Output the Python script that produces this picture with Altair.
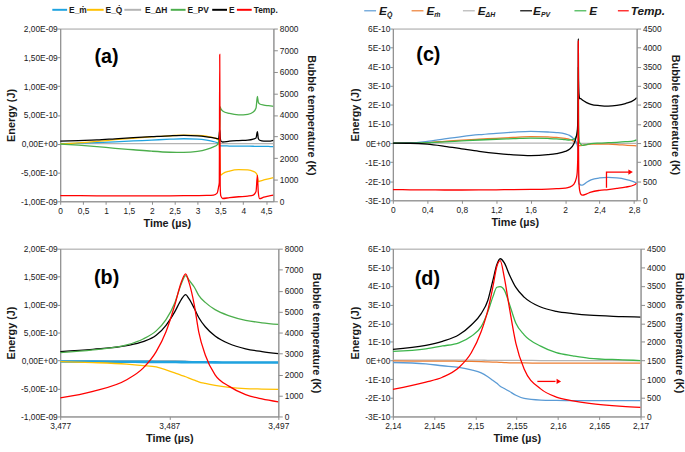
import altair as alt
import pandas as pd

FONT = "Liberation Sans"
AXC = "#8c8c8c"
TXT = "#1a1a1a"

# ---------------- Panel (a): energies in 1e-10 J, temperature in K ----------------
t_a = [0, 0.4, 0.8, 1.2, 1.6, 2.0, 2.4, 2.7, 3.0, 3.2, 3.35, 3.43, 3.46, 3.477, 3.487, 3.497,
       3.51, 3.55, 3.7, 3.9, 4.1, 4.22, 4.28, 4.31, 4.33, 4.36, 4.45, 4.55, 4.66]
a_Em = [0, 0.08, 0.18, 0.33, 0.48, 0.63, 0.78, 0.86, 0.8, 0.62, 0.38, 0.18, 0.05, -0.18, -0.25, -0.36,
        -0.38, -0.38, -0.4, -0.42, -0.43, -0.44, -0.45, -0.45, -0.46, -0.46, -0.47, -0.48, -0.5]
a_EQ = [0, 0.15, 0.4, 0.7, 0.95, 1.18, 1.38, 1.5, 1.45, 1.3, 1.05, 0.8, 0.6, -0.2, -2.0, -5.15,
        -5.45, -5.2, -4.75, -4.5, -4.55, -4.8, -5.1, -5.6, -6.6, -6.5, -6.3, -6.1, -5.9]
a_EdH = [0] * 29
a_EPV = [-0.05, -0.25, -0.5, -0.8, -1.05, -1.3, -1.48, -1.52, -1.35, -1.0, -0.55, -0.2, 0.3, 1.4, 3.0, 6.4,
         6.1, 5.7, 5.25, 5.0, 5.1, 5.5, 6.2, 8.2, 7.2, 6.9, 6.7, 6.6, 6.5]
a_E = [0.45, 0.55, 0.65, 0.85, 1.05, 1.22, 1.38, 1.45, 1.38, 1.2, 1.0, 0.9, 0.8, 1.6, 2.4, 1.2,
       0.5, 0.3, 0.45, 0.55, 0.62, 0.8, 1.0, 2.1, 0.9, 0.6, 0.45, 0.45, 0.6]
a_T = [265, 258, 255, 252, 252, 252, 255, 258, 262, 270, 290, 380, 650, 870, 6800, 700,
       250, 130, 170, 210, 240, 290, 450, 1200, 400, 120, 190, 240, 290]

# ---------------- Panel (b): zoom on first collapse ----------------
t_b = [3.477, 3.4800, 3.4831, 3.4846, 3.4858, 3.4867, 3.4875, 3.4881, 3.4885, 3.4888, 3.4893,
       3.4897, 3.4903, 3.4912, 3.4925, 3.4940, 3.4955, 3.497]
b_Em = [-0.18, -0.2, -0.22, -0.24, -0.25, -0.26, -0.27, -0.28, -0.29, -0.3, -0.3, -0.31, -0.32,
        -0.33, -0.34, -0.35, -0.35, -0.36]
b_EQ = [-0.18, -0.36, -0.65, -0.9, -1.15, -1.66, -2.2, -2.65, -2.9, -3.15, -3.5, -3.8, -4.1,
        -4.45, -4.8, -5.03, -5.1, -5.15]
b_EdH = [0, 0, 0, 0, 0, -0.01, -0.02, -0.05, -0.1, -0.15, -0.2, -0.25, -0.28, -0.3, -0.32,
         -0.33, -0.34, -0.35]
b_EPV = [1.42, 1.89, 2.78, 3.85, 5.3, 7.3, 10.3, 13.7, 15.2, 14.4, 13.1, 11.66, 10.4, 9.1, 8.0,
         7.2, 6.75, 6.45]
b_E = [1.6, 2.0, 2.66, 3.37, 4.5, 6.3, 8.7, 10.9, 11.78, 11.07, 9.3, 7.7, 6.04, 4.4, 3.0, 2.1,
       1.6, 1.24]
b_T = [883, 1199, 1751, 2303, 3091, 4038, 5300, 6404, 6798, 6404, 5300, 4038, 2934, 1987, 1435,
       1041, 836, 694]

# ---------------- Panel (d): zoom on collapse of case (c) ----------------
t_d = [2.14, 2.144, 2.146, 2.148, 2.1495, 2.1507, 2.1515, 2.1521, 2.1526, 2.153, 2.1535, 2.1541,
       2.1549, 2.1559, 2.1579, 2.1598, 2.1618, 2.1638, 2.1678, 2.17]
d_EQ = [-0.105, -0.18, -0.28, -0.37, -0.5, -0.66, -0.87, -1.06, -1.22, -1.38, -1.5, -1.65, -1.86,
        -2.03, -2.12, -2.14, -2.15, -2.15, -2.15, -2.15]
d_Em = [-0.02, -0.03, -0.03, -0.04, -0.05, -0.06, -0.07, -0.08, -0.09, -0.1, -0.11, -0.12, -0.13,
        -0.13, -0.14, -0.14, -0.14, -0.14, -0.14, -0.14]
d_EdH = [0.02, 0.02, 0.02, 0.02, 0.02, 0.02, 0.01, 0.01, 0.01, 0.01, 0.01, 0.01, 0.01, 0.01, 0,
         0, 0, 0, 0, 0]
d_EPV = [0.60, 0.81, 1.03, 1.38, 1.91, 2.52, 3.22, 4.27, 5.15, 5.46, 5.24, 4.62, 3.92, 3.40, 2.87,
         2.64, 2.52, 2.43, 2.36, 2.33]
d_E = [0.49, 0.63, 0.78, 0.95, 1.30, 1.82, 2.61, 3.40, 3.93, 3.96, 3.78, 3.05, 2.0, 1.38, 0.77,
       0.42, 0.25, 0.12, 0.04, 0.0]
d_T = [727, 919, 1051, 1313, 1708, 2277, 2846, 3459, 4028, 4177, 3722, 2933, 1960, 1270, 740,
       520, 420, 350, 271, 245]

# ---------------- Panel (c): before and after the collapse window of (d) ----------------
t_c1 = [0, 0.2, 0.4, 0.6, 0.8, 1.0, 1.2, 1.4, 1.6, 1.8, 1.9, 2.0, 2.05, 2.1, 2.13]
c1_EQ = [0, 0.01, 0.09, 0.22, 0.34, 0.44, 0.51, 0.57, 0.61, 0.58, 0.55, 0.48, 0.4, 0.22, 0.05]
c1_Em = [0, 0, 0.03, 0.09, 0.15, 0.2, 0.25, 0.3, 0.34, 0.32, 0.3, 0.24, 0.2, 0.1, 0.03]
c1_EdH = [0] * 15
c1_EPV = [0, -0.01, -0.06, -0.17, -0.3, -0.43, -0.54, -0.62, -0.66, -0.61, -0.55, -0.44, -0.33, -0.05, 0.35]
c1_E = [0, 0, 0.02, 0.06, 0.11, 0.16, 0.2, 0.23, 0.26, 0.24, 0.22, 0.18, 0.16, 0.2, 0.35]
c1_T = [280, 275, 272, 270, 270, 272, 275, 280, 285, 295, 305, 320, 345, 420, 580]

t_c2 = [2.18, 2.2, 2.25, 2.3, 2.4, 2.5, 2.6, 2.7, 2.8, 2.83]
c2_EQ = [-2.2, -2.2, -2.05, -1.93, -1.83, -1.8, -1.83, -1.9, -2.03, -2.08]
c2_Em = [-0.14, -0.12, -0.08, -0.06, -0.05, -0.06, -0.08, -0.11, -0.14, -0.15]
c2_EdH = [-0.02] * 10
c2_EPV = [2.33, 2.25, 2.12, 2.03, 1.96, 1.93, 1.97, 2.07, 2.25, 2.38]
c2_E = [-0.05, -0.12, -0.08, -0.03, 0.0, 0.02, 0.04, 0.07, 0.12, 0.17]
c2_T = [170, 135, 170, 215, 260, 280, 310, 345, 400, 450]

# red arrows (temperature axis)
arrow_c_t = [2.48, 2.48, 2.74]
arrow_c_T = [330, 740, 740]
arrow_d_t = [2.1575, 2.1597]
arrow_d_T = [940, 940]

# legends
leg_a_labels = ["E_ṁ", "E_Q̇", "E_ΔH", "E_PV", "E", "Temp."]
leg_c_main = ["E", "E", "E", "E", "E", "Temp."]
leg_c_sub = ["Q̇", "ṁ", "ΔH", "PV", "", ""]

# tick values / labels
x_a_ticks = [0, 0.5, 1, 1.5, 2, 2.5, 3, 3.5, 4, 4.5]
x_b_ticks = [3.477, 3.487, 3.497]
x_c_ticks = [0, 0.4, 0.8, 1.2, 1.6, 2, 2.4, 2.8]
x_d_ticks = [2.14, 2.145, 2.15, 2.155, 2.16, 2.165, 2.17]
e_ab_ticks = [-1e-9, -5e-10, 0, 5e-10, 1e-9, 1.5e-9, 2e-9]
e_ab_labels = ['-1,00E-09', '-5,00E-10', '0,00E+00', '5,00E-10', '1,00E-09', '1,50E-09', '2,00E-09']
e_cd_ticks = [-3e-10, -2e-10, -1e-10, 0, 1e-10, 2e-10, 3e-10, 4e-10, 5e-10, 6e-10]
e_cd_labels = ['-3E-10', '-2E-10', '-1E-10', '0E+00', '1E-10', '2E-10', '3E-10', '4E-10', '5E-10', '6E-10']
T_ab_ticks = [0, 1000, 2000, 3000, 4000, 5000, 6000, 7000, 8000]
T_cd_ticks = [0, 500, 1000, 1500, 2000, 2500, 3000, 3500, 4000, 4500]

# colours
COL_A = {"m": "#1fa3e0", "Q": "#ffc000", "dH": "#b4b4b4", "PV": "#4cae4c", "E": "#000000", "T": "#ff0000"}
COL_C = {"Q": "#5b9bd5", "m": "#ed7d31", "dH": "#b4b4b4", "PV": "#000000", "E": "#3cb44b", "T": "#ff0000"}

DUMMY = pd.DataFrame({"k": [0]})


def x_axis(vals):
    return alt.Axis(values=vals, title="Time (µs)", labelExpr="replace(toString(datum.value), '.', ',')",
                    grid=False, tickSize=3, labelPadding=2, titlePadding=3, labelFontSize=8.5,
                    titleFontSize=11, titleFontWeight="bold", labelFont=FONT, titleFont=FONT,
                    domainColor=AXC, tickColor=AXC, labelColor=TXT, titleColor=TXT,
                    labelFlush=False, labelOverlap=False)


def e_axis(vals, labels, lo, step):
    arr = "[" + ",".join("'%s'" % s for s in labels) + "]"
    return alt.Axis(values=vals, title="Energy (J)", orient="left",
                    labelExpr="%s[round((datum.value - (%g)) / %g)]" % (arr, lo, step),
                    grid=False, tickSize=3, labelPadding=0, titlePadding=4, labelFontSize=8.5,
                    titleFontSize=11, titleFontWeight="bold", labelFont=FONT, titleFont=FONT,
                    domainColor=AXC, tickColor=AXC, labelColor=TXT, titleColor=TXT,
                    labelOverlap=False, labelBound=False)


def t_axis(vals):
    return alt.Axis(values=vals, title="Bubble temperature (K)", orient="right", format="d",
                    grid=False, tickSize=4, labelPadding=2, titlePadding=8, labelFontSize=8.5,
                    titleFontSize=11, titleFontWeight="bold", labelFont=FONT, titleFont=FONT,
                    domainColor=AXC, tickColor=AXC, labelColor=TXT, titleColor=TXT,
                    labelOverlap=False, labelBound=False)


def panel(t, series, temp, xdom, xticks, edom, eticks, elabels, estep, tdom, tticks,
          letter, lpos, extra=()):
    X = alt.X("t:Q", scale=alt.Scale(domain=xdom, nice=False, zero=False), axis=x_axis(xticks))
    eax = e_axis(eticks, elabels, edom[0], estep)
    ysc = alt.Scale(domain=edom, nice=False, zero=False)
    e_layers = []
    for vals, color, sw in series:
        df = pd.DataFrame({"t": t, "v": [v * 1e-10 for v in vals]})
        e_layers.append(alt.Chart(df).mark_line(color=color, strokeWidth=sw, clip=True,
                                                interpolate="monotone")
                        .encode(x=X, y=alt.Y("v:Q", scale=ysc, axis=eax)))
    tax = t_axis(tticks)
    tsc = alt.Scale(domain=tdom, nice=False, zero=False)
    dft = pd.DataFrame({"t": t, "T": temp})
    t_layers = [alt.Chart(dft).mark_line(color="#ff0000", strokeWidth=1.3, clip=True,
                                         interpolate="monotone")
                .encode(x=X, y=alt.Y("T:Q", scale=tsc, axis=tax))]
    for kind, at, aT in extra:
        dfa = pd.DataFrame({"t": at, "T": aT, "o": list(range(len(at)))})
        if kind == "line":
            t_layers.append(alt.Chart(dfa).mark_line(color="#ff0000", strokeWidth=1.3)
                            .encode(x=X, y=alt.Y("T:Q", scale=tsc, axis=tax), order="o:Q"))
        else:
            t_layers.append(alt.Chart(dfa).mark_point(shape="triangle-right", filled=True, size=28,
                                                      color="#ff0000", opacity=1)
                            .encode(x=X, y=alt.Y("T:Q", scale=tsc, axis=tax)))
    txt = alt.Chart(DUMMY).mark_text(text=letter, font=FONT, fontSize=20, fontWeight="bold",
                                     color="black", align="center", baseline="middle").encode(
        x=alt.value(lpos[0]), y=alt.value(lpos[1]))
    return [alt.layer(*e_layers), alt.layer(*t_layers), txt]


def legend_a(ly):
    lines = [(-8, 7), (27, 44), (65, 82), (112, 127), (154, 169), (179, 194)]
    tx = [9, 46, 86, 129, 171, 196]
    cols = [COL_A[k] for k in ["m", "Q", "dH", "PV", "E", "T"]]
    out = []
    for i, lab in enumerate(leg_a_labels):
        out.append(alt.Chart(DUMMY).mark_rule(color=cols[i], strokeWidth=2).encode(
            x=alt.value(lines[i][0]), x2=alt.value(lines[i][1]), y=alt.value(ly)))
        out.append(alt.Chart(DUMMY).mark_text(text=lab, font=FONT, fontSize=8.5, fontWeight="bold",
                                              color=TXT, align="left", baseline="middle").encode(
            x=alt.value(tx[i]), y=alt.value(ly)))
    return out


def legend_c(ly):
    lines = [(-29, -17), (19, 31), (71, 83), (129, 141), (184, 196), (228, 239)]
    tx = [-14, 34, 86, 142, 199, 241]
    cols = [COL_C[k] for k in ["Q", "m", "dH", "PV", "E", "T"]]
    out = []
    for i in range(6):
        out.append(alt.Chart(DUMMY).mark_rule(color=cols[i], strokeWidth=1.2).encode(
            x=alt.value(lines[i][0]), x2=alt.value(lines[i][1]), y=alt.value(ly)))
        out.append(alt.Chart(DUMMY).mark_text(text=leg_c_main[i], font=FONT, fontSize=12,
                                              fontWeight="bold", fontStyle="italic", color=TXT,
                                              align="left", baseline="middle").encode(
            x=alt.value(tx[i]), y=alt.value(ly)))
        if leg_c_sub[i]:
            out.append(alt.Chart(DUMMY).mark_text(text=leg_c_sub[i], font=FONT, fontSize=7,
                                                  fontWeight="bold", fontStyle="italic", color=TXT,
                                                  align="left", baseline="middle").encode(
                x=alt.value(tx[i] + 8), y=alt.value(ly + 4)))
    return out


def spacer(xpix):
    return alt.Chart(DUMMY).mark_rule(color="white", strokeWidth=1).encode(
        x=alt.value(xpix), y=alt.value(100), y2=alt.value(101))


def build(layers, w, h):
    return alt.layer(*layers).resolve_scale(y="independent").properties(width=w, height=h)


# panel (a)
la = panel(t_a, [(a_EdH, COL_A["dH"], 1.3), (a_Em, COL_A["m"], 1.3), (a_EQ, COL_A["Q"], 1.3),
                 (a_EPV, COL_A["PV"], 1.3), (a_E, COL_A["E"], 1.3)], a_T,
           [0, 4.66], x_a_ticks, [-1e-9, 2e-9], e_ab_ticks, e_ab_labels, 5e-10,
           [0, 8000], T_ab_ticks, "(a)", (47, 29))
pa = build(la + legend_a(-19) + [spacer(-58)], 216, 175)

# panel (b)
lb = panel(t_b, [(b_EdH, COL_A["dH"], 1.3), (b_Em, COL_A["m"], 2.6), (b_EQ, COL_A["Q"], 1.3),
                 (b_E, COL_A["E"], 1.3), (b_EPV, COL_A["PV"], 1.3)], b_T,
           [3.477, 3.497], x_b_ticks, [-1e-9, 2e-9], e_ab_ticks, e_ab_labels, 5e-10,
           [0, 8000], T_ab_ticks, "(b)", (47, 30))
pb = build(lb, 221, 170)

# panel (c)
t_c = t_c1 + t_d + t_c2
lc = panel(t_c, [(c1_EdH + d_EdH + c2_EdH, COL_C["dH"], 1.3),
                 (c1_Em + d_Em + c2_Em, COL_C["m"], 1.3),
                 (c1_EQ + d_EQ + c2_EQ, COL_C["Q"], 1.3),
                 (c1_E + d_E + c2_E, COL_C["E"], 1.3),
                 (c1_EPV + d_EPV + c2_EPV, COL_C["PV"], 1.3)], c1_T + d_T + c2_T,
           [0, 2.83], x_c_ticks, [-3e-10, 6e-10], e_cd_ticks, e_cd_labels, 1e-10,
           [0, 4500], T_cd_ticks, "(c)", (36, 27),
           extra=[("line", arrow_c_t, arrow_c_T), ("head", [2.76], [740])])
pc = build(lc + legend_c(-18), 247, 174)

# panel (d)
ld = panel(t_d, [(d_EdH, COL_C["dH"], 1.3), (d_Em, COL_C["m"], 1.3), (d_EQ, COL_C["Q"], 1.3),
                 (d_E, COL_C["E"], 1.3), (d_EPV, COL_C["PV"], 1.3)], d_T,
           [2.14, 2.17], x_d_ticks, [-3e-10, 6e-10], e_cd_ticks, e_cd_labels, 1e-10,
           [0, 4500], T_cd_ticks, "(d)", (35, 31),
           extra=[("line", arrow_d_t, arrow_d_T), ("head", [2.1601], [940])])
pd_ = build(ld, 251, 170)

row1 = alt.hconcat(pa, pc, spacing=31)
row2 = alt.hconcat(pb, pd_, spacing=26)
chart = alt.vconcat(row1, row2, spacing=15).properties(
    padding={"left": 2, "top": 1, "right": 0, "bottom": 0}, background="white"
).configure_view(stroke="#a0a0a0", strokeWidth=1)

chart.save("out.html", embed_options={"renderer": "svg", "actions": False})
